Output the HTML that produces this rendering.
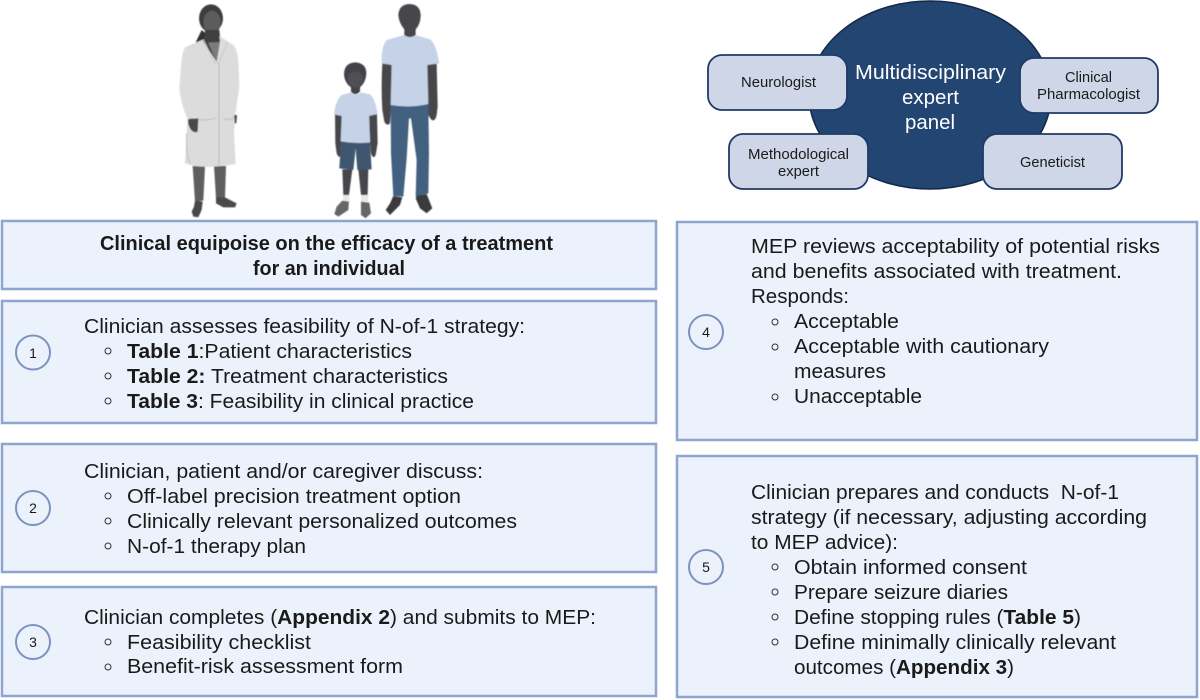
<!DOCTYPE html>
<html><head><meta charset="utf-8"><style>
html,body{margin:0;padding:0;background:#fff}
svg{display:block}
text{font-family:"Liberation Sans",sans-serif;fill:#1a1a1a}
.t{font-size:20px}
.n{font-size:14px;text-anchor:middle}
.p{font-size:15px}
.b{font-weight:bold}
.box{fill:#ebf2fb;stroke:#8ea5d0;stroke-width:2.5}
.c{fill:#ebf2fb;stroke:#7d93bf;stroke-width:2}
.d{fill:none;stroke:#333;stroke-width:1}
.r{fill:#cfd6e8;stroke:#1f3a66;stroke-width:1.8}
</style></head><body>
<svg width="1200" height="700" viewBox="0 0 1200 700" xmlns="http://www.w3.org/2000/svg">
<rect width="1200" height="700" fill="#fff"/>
<defs><filter id="s" x="-10%" y="-10%" width="120%" height="120%"><feGaussianBlur stdDeviation="1.500"/></filter></defs>

<!-- Doctor -->
<g transform="translate(170,0) scale(0.3333)" filter="url(#s)">
  <path d="M68,498 L105,500 L100,602 L75,605Z M132,498 L168,498 L165,595 L138,595Z" fill="#5e5e5e"/>
  <path d="M75,602 L98,605 L95,630 L85,652 L70,650 L65,635 L72,620Z M138,592 L165,592 L200,610 L195,622 L160,622 L138,610Z" fill="#4a4a4a"/>
  <path d="M95,90 L78,125 L88,157 L100,128 L118,110Z" fill="#333"/>
  <ellipse cx="123" cy="55" rx="36" ry="42" fill="#3e3e3e"/>
  <ellipse cx="126" cy="68" rx="26" ry="36" fill="#5b5b5b"/>
  <path d="M105,90 L148,90 L152,128 L140,190 L102,128Z" fill="#404040"/>
  <path d="M114,128 L150,126 L140,186Z" fill="#7b7b7b"/>
  <path d="M100,118 L45,142 Q35,160 33,200 L28,262 Q30,300 52,357 L50,400 L45,490 Q100,510 197,492 L192,400 L196,345 L208,262 L205,180 Q200,145 190,135 L148,108 L150,125 L140,185 L100,125Z" fill="#dcdcdc"/>
  <path d="M147,190 V495 M60,355 Q100,365 137,355 M160,355 Q180,365 194,350 M50,400 Q48,470 60,488" stroke="#bdbdbd" stroke-width="3" fill="none"/>
  <path d="M100,118 L135,190 L147,190 L172,125" stroke="#c6c6c6" stroke-width="2.500" fill="none"/>
  <path d="M55,357 L85,355 L83,395 Q75,400 65,392 Q52,375 55,357Z" fill="#4a4a4a"/>
  <path d="M193,345 L201,345 L199,370 L194,370Z" fill="#4a4a4a"/>
</g>

<!-- Family -->
<g transform="translate(325,0) scale(0.3333)" filter="url(#s)">
  <!-- man -->
  <path d="M220,45 Q222,12 255,12 Q288,14 287,50 Q285,75 272,88 L272,105 Q255,118 238,105 L238,88 Q222,70 220,45Z" fill="#47474b"/>
  <path d="M172,190 L202,192 L198,330 L195,370 Q185,380 178,365 L172,330 Q168,260 172,190Z M305,192 L335,190 L338,320 L335,345 Q330,368 318,358 L307,340 L307,250Z" fill="#47474b"/>
  <path d="M197,312 Q255,322 310,310 L312,460 L310,580 L272,590 L275,480 L258,355 L252,355 L245,475 L235,590 L205,588 L198,460Z" fill="#43607f"/>
  <path d="M205,588 L232,592 L225,615 L195,645 L182,630 L195,610Z M275,588 L305,582 L322,625 L305,640 L285,625 L272,595Z" fill="#3b3b3d"/>
  <path d="M238,105 Q255,118 272,105 L315,118 Q333,130 343,190 L307,195 L310,312 Q255,325 197,315 L200,195 L170,190 Q168,140 185,120Z" fill="#c6d2e8"/>
  <!-- child -->
  <path d="M30,343 L52,345 L50,425 L47,465 Q42,478 35,460 L31,430Z M132,345 L156,342 L158,430 L152,465 Q145,480 138,460 L135,430Z" fill="#47474b"/>
  <path d="M52,508 L82,508 L72,585 L55,585Z M100,508 L130,508 L128,585 L108,585Z" fill="#47474b"/>
  <path d="M53,585 L73,585 L72,608 L55,605Z M108,585 L130,585 L130,605 L108,605Z" fill="#e8e8e8"/>
  <path d="M52,602 L72,605 L70,630 L40,650 L28,642 L35,620Z M108,605 L133,608 L138,640 L122,655 L108,645Z" fill="#666"/>
  <path d="M48,423 L135,428 L140,508 L97,510 L92,445 L85,510 L43,505Z" fill="#3f566f"/>
  <path d="M57,222 Q58,188 92,187 Q125,190 124,222 Q122,248 105,262 L105,275 Q90,290 78,275 L78,262 Q58,248 57,222Z" fill="#424246"/>
  <ellipse cx="91" cy="238" rx="22" ry="24" fill="#505055"/>
  <path d="M78,277 Q92,290 107,277 L135,283 Q150,295 158,342 L132,348 L135,427 Q92,432 47,424 L50,348 L27,343 Q32,300 50,285Z" fill="#c6d2e8"/>
</g>

<!-- Panel -->
<ellipse cx="930" cy="95" rx="121" ry="94" fill="#234571" stroke="#14294a" stroke-width="1.500"/>
<rect class="r" x="708" y="55" width="139" height="55" rx="14"/>
<rect class="r" x="1020" y="58" width="138" height="55" rx="14"/>
<rect class="r" x="729" y="134" width="139" height="55" rx="14"/>
<rect class="r" x="983" y="134" width="139" height="55" rx="14"/>
<text x="855" y="79" font-size="20" style="fill:#fff" textLength="151" lengthAdjust="spacingAndGlyphs">Multidisciplinary</text>
<text x="902" y="104" font-size="20" style="fill:#fff" textLength="57" lengthAdjust="spacingAndGlyphs">expert</text>
<text x="905" y="129" font-size="20" style="fill:#fff" textLength="50" lengthAdjust="spacingAndGlyphs">panel</text>
<text class="p" x="741" y="87" textLength="75" lengthAdjust="spacingAndGlyphs">Neurologist</text>
<text class="p" x="1065" y="82" textLength="47" lengthAdjust="spacingAndGlyphs">Clinical</text>
<text class="p" x="1037" y="99" textLength="103" lengthAdjust="spacingAndGlyphs">Pharmacologist</text>
<text class="p" x="748" y="159" textLength="101" lengthAdjust="spacingAndGlyphs">Methodological</text>
<text class="p" x="778" y="176" textLength="41" lengthAdjust="spacingAndGlyphs">expert</text>
<text class="p" x="1020" y="167" textLength="65" lengthAdjust="spacingAndGlyphs">Geneticist</text>

<!-- Boxes -->
<rect class="box" x="2" y="221" width="654" height="68"/>
<rect class="box" x="2" y="301" width="654" height="122"/>
<rect class="box" x="2" y="444" width="654" height="128"/>
<rect class="box" x="2" y="587" width="654" height="109"/>
<rect class="box" x="677" y="222" width="520" height="218"/>
<rect class="box" x="677" y="456" width="520" height="241"/>

<!-- Circles -->
<circle class="c" cx="33" cy="352.500" r="17"/><text class="n" x="33" y="358">1</text>
<circle class="c" cx="33" cy="508" r="17"/><text class="n" x="33" y="513">2</text>
<circle class="c" cx="33" cy="642" r="17"/><text class="n" x="33" y="647">3</text>
<circle class="c" cx="706" cy="332" r="17"/><text class="n" x="706" y="337">4</text>
<circle class="c" cx="706" cy="567" r="17"/><text class="n" x="706" y="572">5</text>

<!-- Header -->
<text class="t b" x="100" y="250" textLength="453" lengthAdjust="spacingAndGlyphs">Clinical equipoise on the efficacy of a treatment</text>
<text class="t b" x="253" y="275" textLength="152" lengthAdjust="spacingAndGlyphs">for an individual</text>

<!-- Box 1 -->
<text class="t" x="84" y="333" textLength="441" lengthAdjust="spacingAndGlyphs">Clinician assesses feasibility of N-of-1 strategy:</text>
<circle class="d" cx="108" cy="351" r="3"/><text class="t" x="127" y="358" textLength="285" lengthAdjust="spacingAndGlyphs"><tspan class="b">Table 1</tspan>:Patient characteristics</text>
<circle class="d" cx="108" cy="376" r="3"/><text class="t" x="127" y="383" textLength="321" lengthAdjust="spacingAndGlyphs"><tspan class="b">Table 2:</tspan> Treatment characteristics</text>
<circle class="d" cx="108" cy="401" r="3"/><text class="t" x="127" y="408" textLength="347" lengthAdjust="spacingAndGlyphs"><tspan class="b">Table 3</tspan>: Feasibility in clinical practice</text>

<!-- Box 2 -->
<text class="t" x="84" y="478" textLength="399" lengthAdjust="spacingAndGlyphs">Clinician, patient and/or caregiver discuss:</text>
<circle class="d" cx="108" cy="496" r="3"/><text class="t" x="127" y="503" textLength="334" lengthAdjust="spacingAndGlyphs">Off-label precision treatment option</text>
<circle class="d" cx="108" cy="521" r="3"/><text class="t" x="127" y="528" textLength="390" lengthAdjust="spacingAndGlyphs">Clinically relevant personalized outcomes</text>
<circle class="d" cx="108" cy="546" r="3"/><text class="t" x="127" y="553" textLength="179" lengthAdjust="spacingAndGlyphs">N-of-1 therapy plan</text>

<!-- Box 3 -->
<text class="t" x="84" y="624" textLength="512" lengthAdjust="spacingAndGlyphs">Clinician completes (<tspan class="b">Appendix 2</tspan>) and submits to MEP:</text>
<circle class="d" cx="108" cy="642" r="3"/><text class="t" x="127" y="649" textLength="184" lengthAdjust="spacingAndGlyphs">Feasibility checklist</text>
<circle class="d" cx="108" cy="667" r="3"/><text class="t" x="127" y="673" textLength="276" lengthAdjust="spacingAndGlyphs">Benefit-risk assessment form</text>

<!-- Box 4 -->
<text class="t" x="751" y="253" textLength="409" lengthAdjust="spacingAndGlyphs">MEP reviews acceptability of potential risks</text>
<text class="t" x="751" y="278" textLength="371" lengthAdjust="spacingAndGlyphs">and benefits associated with treatment.</text>
<text class="t" x="751" y="303" textLength="98" lengthAdjust="spacingAndGlyphs">Responds:</text>
<circle class="d" cx="775" cy="322" r="3"/><text class="t" x="794" y="328" textLength="105" lengthAdjust="spacingAndGlyphs">Acceptable</text>
<circle class="d" cx="775" cy="347" r="3"/><text class="t" x="794" y="353" textLength="255" lengthAdjust="spacingAndGlyphs">Acceptable with cautionary</text>
<text class="t" x="794" y="378" textLength="92" lengthAdjust="spacingAndGlyphs">measures</text>
<circle class="d" cx="775" cy="397" r="3"/><text class="t" x="794" y="403" textLength="128" lengthAdjust="spacingAndGlyphs">Unacceptable</text>

<!-- Box 5 -->
<text class="t" x="751" y="499" textLength="368" lengthAdjust="spacingAndGlyphs" xml:space="preserve">Clinician prepares and conducts  N-of-1</text>
<text class="t" x="751" y="524" textLength="396" lengthAdjust="spacingAndGlyphs">strategy (if necessary, adjusting according</text>
<text class="t" x="751" y="549" textLength="147" lengthAdjust="spacingAndGlyphs">to MEP advice):</text>
<circle class="d" cx="775" cy="567" r="3"/><text class="t" x="794" y="574" textLength="233" lengthAdjust="spacingAndGlyphs">Obtain informed consent</text>
<circle class="d" cx="775" cy="592" r="3"/><text class="t" x="794" y="599" textLength="214" lengthAdjust="spacingAndGlyphs">Prepare seizure diaries</text>
<circle class="d" cx="775" cy="617" r="3"/><text class="t" x="794" y="624" textLength="287" lengthAdjust="spacingAndGlyphs">Define stopping rules (<tspan class="b">Table 5</tspan>)</text>
<circle class="d" cx="775" cy="642" r="3"/><text class="t" x="794" y="649" textLength="322" lengthAdjust="spacingAndGlyphs">Define minimally clinically relevant</text>
<text class="t" x="794" y="674" textLength="220" lengthAdjust="spacingAndGlyphs">outcomes (<tspan class="b">Appendix 3</tspan>)</text>
</svg>
</body></html>
